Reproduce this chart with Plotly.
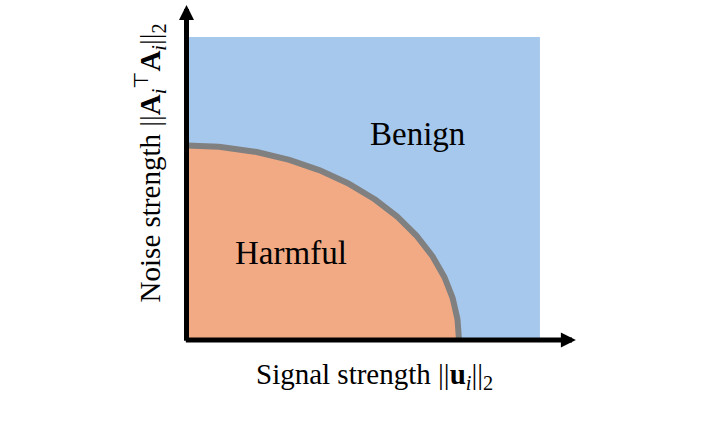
import numpy as np
import plotly.graph_objects as go

# ---- conceptual diagram data (unitless strengths) ----
signal_max = 1.297        # extent of the plotted region along signal axis
noise_max = 1.558         # extent along noise axis
harm_signal_radius = 1.0  # harmful boundary meets the signal axis
harm_noise_radius = 1.0   # harmful boundary meets the noise axis
arrow_x_tip = 1.429
arrow_y_tip = 1.722

region_labels = ["Benign", "Harmful"]
region_label_x = [0.846, 0.382]
region_label_y = [1.057, 0.449]

x_title = "Signal strength ||<b>u</b><sub><i>i</i></sub>||<sub>2</sub>"
y_title = ("Noise strength ||<b>A</b><sub><i>i</i></sub><sup>⊤</sup>"
           "<b>A</b><sub><i>i</i></sub>||<sub>2</sub>")

BLUE = "#A6C8EC"
ORANGE = "#F2AA84"
GRAY = "#808080"
FONT = "Liberation Serif"

theta = np.linspace(0, np.pi / 2, 200)
bx = harm_signal_radius * np.cos(theta)
by = harm_noise_radius * np.sin(theta)

fig = go.Figure()

# Benign region (full box)
fig.add_trace(go.Scatter(
    x=[0, signal_max, signal_max, 0, 0],
    y=[0, 0, noise_max, noise_max, 0],
    fill="toself", fillcolor=BLUE, mode="none", hoverinfo="skip",
    showlegend=False))

# Harmful region
fig.add_trace(go.Scatter(
    x=np.concatenate([[0], bx, [0]]),
    y=np.concatenate([[0], by, [0]]),
    fill="toself", fillcolor=ORANGE, mode="none", hoverinfo="skip",
    showlegend=False))

# Boundary
fig.add_trace(go.Scatter(
    x=bx, y=by, mode="lines", line=dict(color=GRAY, width=6),
    hoverinfo="skip", showlegend=False))

annotations = []
# axes arrows
annotations.append(dict(x=arrow_x_tip, y=0, ax=-0.008, ay=0, xref="x", yref="y",
                        axref="x", ayref="y", showarrow=True, arrowhead=2,
                        arrowsize=0.6, arrowwidth=5, arrowcolor="black",
                        standoff=0, text=""))
annotations.append(dict(x=0, y=arrow_y_tip, ax=0, ay=-0.012, xref="x", yref="y",
                        axref="x", ayref="y", showarrow=True, arrowhead=2,
                        arrowsize=0.6, arrowwidth=5, arrowcolor="black",
                        standoff=0, text=""))

for t, x, y in zip(region_labels, region_label_x, region_label_y):
    annotations.append(dict(x=x, y=y, xref="x", yref="y", text=t,
                            showarrow=False, xanchor="center", yanchor="middle",
                            font=dict(family=FONT, size=33, color="black")))

annotations.append(dict(x=0.690, y=-0.185, xref="x", yref="y", text=x_title,
                        showarrow=False, xanchor="center", yanchor="middle",
                        font=dict(family=FONT, size=29, color="black")))
annotations.append(dict(x=-0.134, y=0.913, xref="x", yref="y", text=y_title,
                        showarrow=False, xanchor="center", yanchor="middle",
                        textangle=-90,
                        font=dict(family=FONT, size=29, color="black")))

fig.update_layout(
    width=714, height=431,
    margin=dict(l=0, r=0, t=0, b=0),
    paper_bgcolor="white", plot_bgcolor="white",
    xaxis=dict(range=[-0.6844, 1.9358], visible=False, fixedrange=True),
    yaxis=dict(range=[-0.4679, 1.7481], visible=False, fixedrange=True),
    annotations=annotations,
)

fig.write_html("out.html", config={"displayModeBar": False},
               post_script="document.body.style.margin='0';"
                           "document.body.style.overflow='hidden';")
